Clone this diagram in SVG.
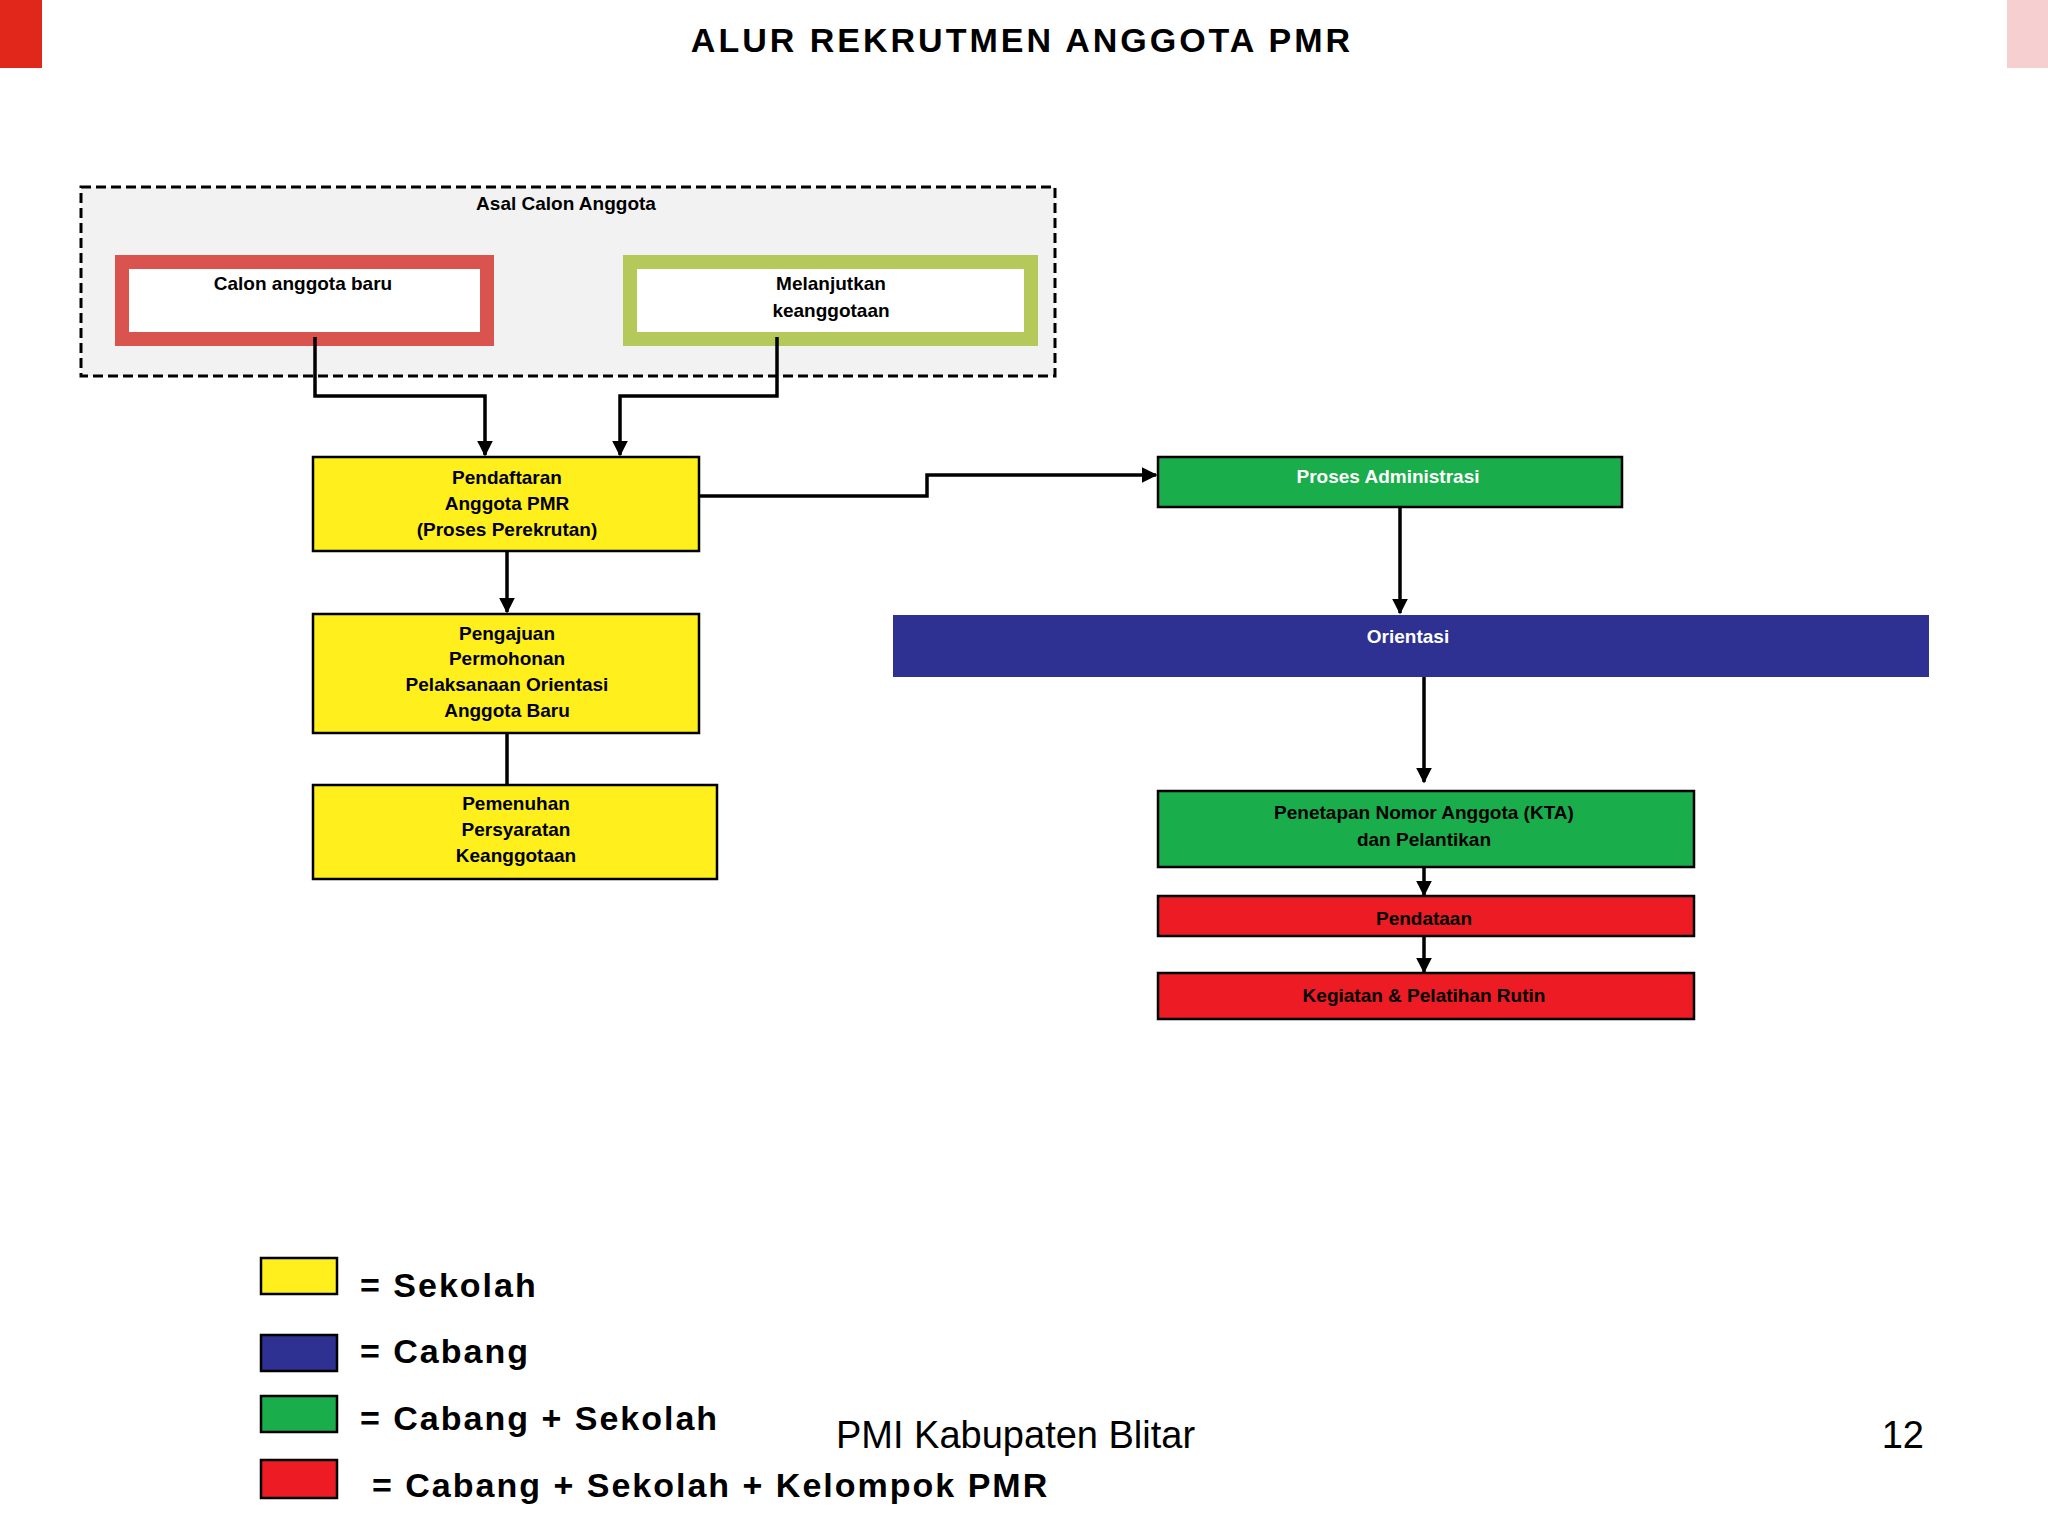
<svg xmlns="http://www.w3.org/2000/svg" width="2048" height="1536" viewBox="0 0 2048 1536">
<style>
text{font-family:"Liberation Sans",Arial,sans-serif;font-weight:bold;fill:#000}
.n{font-size:19px;text-anchor:middle}
.w{fill:#fff}
.b{stroke:#000;stroke-width:2.5}
.c{fill:none;stroke:#000;stroke-width:3.5}
.lg{font-size:34px;letter-spacing:2px}
</style>
<defs><marker id="a" viewBox="0 0 10 10" refX="9" refY="5" markerWidth="4.5" markerHeight="4.5" orient="auto"><path d="M0 0L10 5L0 10z" fill="#000"/></marker></defs>
<rect width="2048" height="1536" fill="#fff"/>
<rect x="0" y="0" width="42" height="68" fill="#e1261c"/>
<rect x="2007" y="0" width="41" height="68" fill="#f6d0d0"/>
<text x="1022" y="52" text-anchor="middle" style="font-size:34px;letter-spacing:3px">ALUR REKRUTMEN ANGGOTA PMR</text>
<g id="asal">
<rect x="81" y="187" width="974" height="189" fill="#f2f2f2" stroke="#000" stroke-width="3" stroke-dasharray="10,5"/>
<text class="n" x="566" y="210">Asal Calon Anggota</text>
</g>
<g id="baru"><rect x="122" y="262" width="365" height="77" fill="#fff" stroke="#d9534f" stroke-width="14"/><text class="n" x="303" y="290">Calon anggota baru</text></g>
<g id="lanjut"><rect x="630" y="262" width="401" height="77" fill="#fff" stroke="#b5c85a" stroke-width="14"/><text class="n" x="831" y="290">Melanjutkan</text><text class="n" x="831" y="317">keanggotaan</text></g>
<g id="daftar"><rect class="b" x="313" y="457" width="386" height="94" fill="#ffef1c"/><text class="n" x="507" y="484">Pendaftaran</text><text class="n" x="507" y="510">Anggota PMR</text><text class="n" x="507" y="536">(Proses Perekrutan)</text></g>
<g id="aju"><rect class="b" x="313" y="614" width="386" height="119" fill="#ffef1c"/><text class="n" x="507" y="640">Pengajuan</text><text class="n" x="507" y="665">Permohonan</text><text class="n" x="507" y="691">Pelaksanaan Orientasi</text><text class="n" x="507" y="717">Anggota Baru</text></g>
<g id="penuhan"><rect class="b" x="313" y="785" width="404" height="94" fill="#ffef1c"/><text class="n" x="516" y="810">Pemenuhan</text><text class="n" x="516" y="836">Persyaratan</text><text class="n" x="516" y="862">Keanggotaan</text></g>
<g id="admin"><rect class="b" x="1158" y="457" width="464" height="50" fill="#1aad4b"/><text class="n w" x="1388" y="483">Proses Administrasi</text></g>
<g id="orientasi"><rect x="893" y="615" width="1036" height="62" fill="#2e3192"/><text class="n w" x="1408" y="643">Orientasi</text></g>
<g id="kta"><rect class="b" x="1158" y="791" width="536" height="76" fill="#1aad4b"/><text class="n" x="1424" y="819">Penetapan Nomor Anggota (KTA)</text><text class="n" x="1424" y="846">dan Pelantikan</text></g>
<g id="data"><rect class="b" x="1158" y="896" width="536" height="40" fill="#ed1c24"/><text class="n" x="1424" y="925">Pendataan</text></g>
<g id="kegiatan"><rect class="b" x="1158" y="973" width="536" height="46" fill="#ed1c24"/><text class="n" x="1424" y="1002">Kegiatan &amp; Pelatihan Rutin</text></g>
<g id="connectors">
<path class="c" d="M315 337V396H485V455" marker-end="url(#a)"/>
<path class="c" d="M777 337V396H620V455" marker-end="url(#a)"/>
<path class="c" d="M507 551V612" marker-end="url(#a)"/>
<path class="c" d="M507 733V785"/>
<path class="c" d="M699 496H927V475H1156" marker-end="url(#a)"/>
<path class="c" d="M1400 507V613" marker-end="url(#a)"/>
<path class="c" d="M1424 677V782" marker-end="url(#a)"/>
<path class="c" d="M1424 867V895" marker-end="url(#a)"/>
<path class="c" d="M1424 936V972" marker-end="url(#a)"/>
</g>
<g id="legend">
<rect class="b" x="261" y="1258" width="76" height="36" fill="#ffef1c"/>
<rect class="b" x="261" y="1335" width="76" height="36" fill="#2e3192"/>
<rect class="b" x="261" y="1396" width="76" height="36" fill="#1aad4b"/>
<rect class="b" x="261" y="1460" width="76" height="38" fill="#ed1c24"/>
<text class="lg" x="360" y="1297">= Sekolah</text>
<text class="lg" x="360" y="1363">= Cabang</text>
<text class="lg" x="360" y="1430">= Cabang + Sekolah</text>
<text class="lg" x="372" y="1497">= Cabang + Sekolah + Kelompok PMR</text>
</g>
<text x="836" y="1448" style="font-weight:normal;font-size:38px">PMI Kabupaten Blitar</text>
<text x="1924" y="1448" text-anchor="end" style="font-weight:normal;font-size:38px">12</text>
</svg>
